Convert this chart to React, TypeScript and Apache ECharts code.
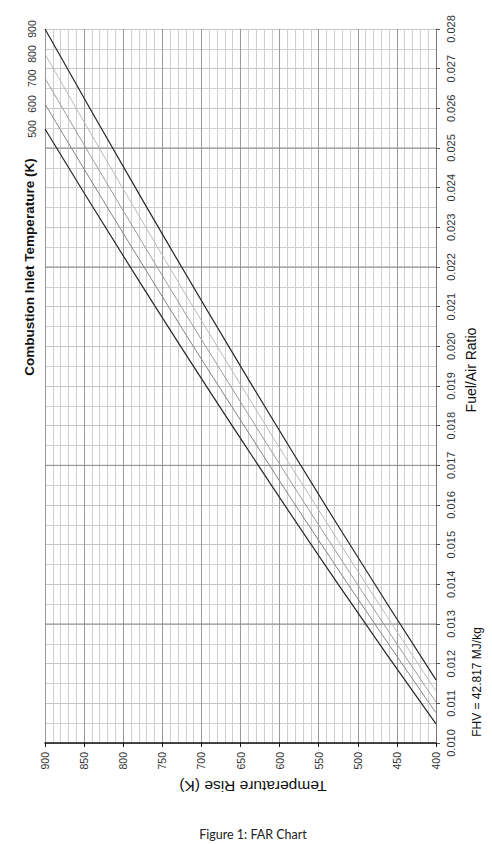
import React, { useEffect, useRef } from 'react';
import * as echarts from 'echarts';

// Temperature rise (K) sample points
const TEMP_RISE = [400, 525, 650, 775, 900];
// Combustion inlet temperature curves (K)
const INLET_TEMPS = ['500', '600', '700', '800', '900'];
const FAR_500 = [0.01048, 0.01400, 0.01768, 0.02150, 0.02548];
const FAR_600 = [0.01076, 0.01437, 0.01814, 0.02205, 0.02611];
const FAR_700 = [0.01103, 0.01474, 0.01860, 0.02260, 0.02676];
const FAR_800 = [0.01131, 0.01510, 0.01904, 0.02313, 0.02737];
const FAR_900 = [0.01159, 0.01547, 0.01950, 0.02368, 0.02800];
// Darker horizontal rules visible on the chart paper
const DARK_FAR = [0.013, 0.017, 0.022, 0.025];
const TEMP_RISE_RANGE = [400, 900];

const LINE_COLORS = ['#262626', '#808080', '#9a9a9a', '#b8b8b8', '#262626'];
const FONT = 'Liberation Sans, Arial, sans-serif';

export default function App() {
  const ref = useRef<HTMLDivElement>(null);

  useEffect(() => {
    const chart = echarts.init(ref.current!, null, { renderer: 'svg' });
    const curves = [FAR_500, FAR_600, FAR_700, FAR_800, FAR_900];

    const ruleSeries: any[] = DARK_FAR.map((v) => ({
      type: 'line',
      data: TEMP_RISE_RANGE.map((t) => [t, v]),
      symbol: 'none',
      silent: true,
      lineStyle: { color: '#8c8c8c', width: 1 },
      z: 1,
    }));

    const curveSeries: any[] = curves.map((vals, i) => ({
      name: INLET_TEMPS[i],
      type: 'line',
      data: TEMP_RISE.map((t, j) => [t, vals[j]]),
      smooth: true,
      symbol: 'none',
      lineStyle: { color: LINE_COLORS[i], width: i === 0 || i === 4 ? 1.2 : 1 },
      z: 5,
    }));

    chart.setOption({
      animation: false,
      backgroundColor: '#ffffff',
      grid: { left: 45, top: 29, width: 391, height: 714, show: false },
      xAxis: {
        type: 'value',
        min: 400,
        max: 900,
        interval: 50,
        inverse: true,
        position: 'bottom',
        axisLine: { show: true, onZero: false, lineStyle: { color: '#111', width: 1.5 } },
        axisTick: { show: true, length: 4, lineStyle: { color: '#111' } },
        axisLabel: {
          rotate: 90,
          margin: 9,
          fontSize: 10.5,
          fontFamily: FONT,
          color: '#333',
        },
        splitLine: { show: true, lineStyle: { color: '#9a9a9a', width: 1 } },
        minorTick: { show: false, splitNumber: 5 },
        minorSplitLine: { show: true, lineStyle: { color: '#cfcfcf', width: 1 } },
      },
      yAxis: {
        type: 'value',
        min: 0.01,
        max: 0.028,
        interval: 0.001,
        position: 'right',
        axisLine: { show: true, onZero: false, lineStyle: { color: '#777', width: 1 } },
        axisTick: { show: true, length: 4, lineStyle: { color: '#555' } },
        axisLabel: {
          rotate: 90,
          margin: 9,
          fontSize: 11,
          fontFamily: FONT,
          color: '#333',
          formatter: (v: number) => v.toFixed(3),
        },
        splitLine: { show: true, lineStyle: { color: '#c4c4c4', width: 1 } },
        minorTick: { show: false, splitNumber: 2 },
        minorSplitLine: { show: true, lineStyle: { color: '#cfcfcf', width: 1 } },
      },
      series: [...ruleSeries, ...curveSeries],
    });

    const curveLabels = curves.map((vals, i) => {
      const p = chart.convertToPixel({ gridIndex: 0 }, [
        TEMP_RISE[TEMP_RISE.length - 1],
        vals[vals.length - 1],
      ]) as number[];
      return {
        type: 'text',
        x: 32,
        y: p[1],
        rotation: Math.PI / 2,
        style: {
          text: INLET_TEMPS[i],
          fill: '#333',
          fontSize: 10.5,
          fontFamily: FONT,
          align: 'center',
          verticalAlign: 'middle',
        },
      };
    });

    chart.setOption({
      graphic: [
        {
          type: 'text',
          x: 29,
          y: 267,
          rotation: Math.PI / 2,
          style: {
            text: 'Combustion Inlet Temperature (K)',
            fill: '#111',
            fontSize: 13.5,
            fontWeight: 'bold',
            fontFamily: FONT,
            align: 'center',
            verticalAlign: 'middle',
          },
        },
        {
          type: 'text',
          x: 253,
          y: 786,
          rotation: Math.PI,
          style: {
            text: 'Temperature Rise (K)',
            fill: '#111',
            fontSize: 15.5,
            fontFamily: FONT,
            align: 'center',
            verticalAlign: 'middle',
          },
        },
        {
          type: 'text',
          x: 471,
          y: 370,
          rotation: Math.PI / 2,
          style: {
            text: 'Fuel/Air Ratio',
            fill: '#111',
            fontSize: 14,
            fontFamily: FONT,
            align: 'center',
            verticalAlign: 'middle',
          },
        },
        {
          type: 'text',
          x: 477,
          y: 682,
          rotation: Math.PI / 2,
          style: {
            text: 'FHV = 42.817 MJ/kg',
            fill: '#111',
            fontSize: 12,
            fontFamily: FONT,
            align: 'center',
            verticalAlign: 'middle',
          },
        },
        {
          type: 'text',
          x: 253,
          y: 834,
          style: {
            text: 'Figure 1: FAR Chart',
            fill: '#222',
            fontSize: 12.5,
            fontFamily: 'Lato, Noto Sans, sans-serif',
            align: 'center',
            verticalAlign: 'middle',
          },
        },
        ...curveLabels,
      ],
    });

    return () => chart.dispose();
  }, []);

  return (
    <div
      ref={ref}
      style={{ position: 'fixed', left: 0, top: 0, width: 492, height: 844, background: '#fff' }}
    />
  );
}
